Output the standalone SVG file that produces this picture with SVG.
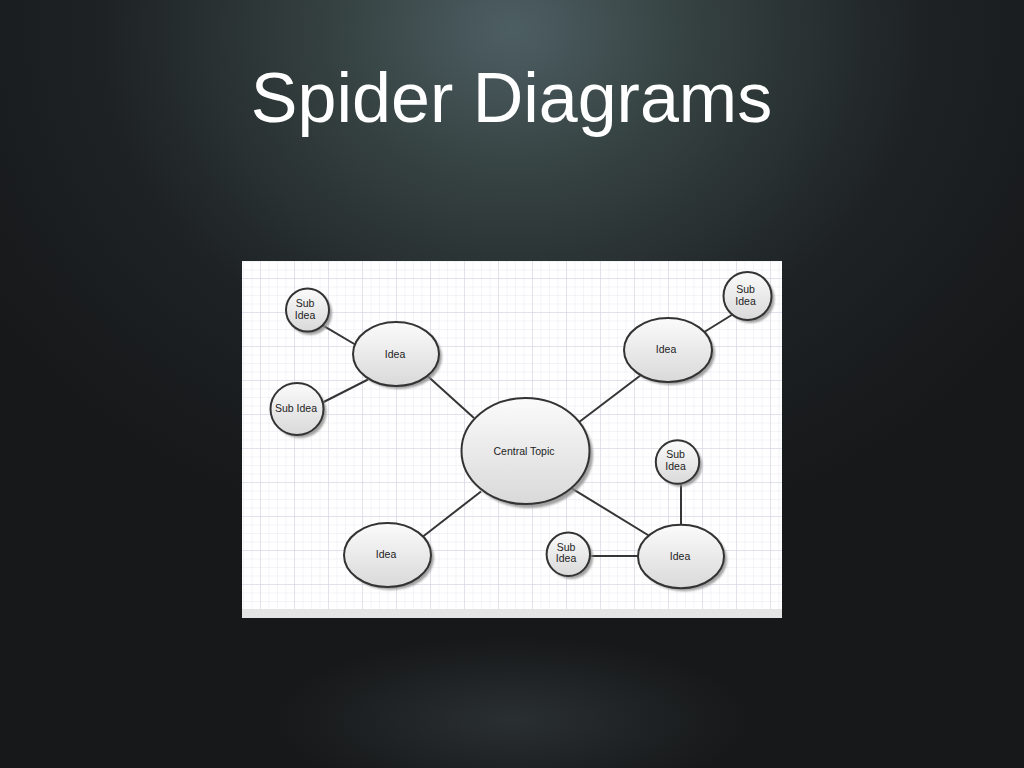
<svg xmlns="http://www.w3.org/2000/svg" width="1024" height="768" viewBox="0 0 1024 768">
<defs>
<radialGradient id="bg" cx="512" cy="30" r="700" gradientUnits="userSpaceOnUse" gradientTransform="translate(512 30) scale(0.9 0.75) translate(-512 -30)">
<stop offset="0" stop-color="#4d5e63"/>
<stop offset="0.3" stop-color="#34403f"/>
<stop offset="0.65" stop-color="#1e2224"/>
<stop offset="1" stop-color="#161819"/>
</radialGradient>
<radialGradient id="glow" cx="512" cy="720" r="240" gradientUnits="userSpaceOnUse" gradientTransform="translate(512 720) scale(1 0.35) translate(-512 -720)">
<stop offset="0" stop-color="#3a4244" stop-opacity="0.55"/>
<stop offset="1" stop-color="#3a4244" stop-opacity="0"/>
</radialGradient>
<linearGradient id="nodefill" x1="0" y1="0" x2="0" y2="1">
<stop offset="0" stop-color="#fbfbfb"/>
<stop offset="1" stop-color="#d9d9d9"/>
</linearGradient>
<pattern id="minor" x="260" y="278" width="8.5" height="8.5" patternUnits="userSpaceOnUse">
<path d="M0 0V8.5M0 0H8.5" fill="none" stroke="#e8e8f2" stroke-width="1"/>
</pattern>
<pattern id="major" x="260" y="278" width="34" height="34" patternUnits="userSpaceOnUse">
<path d="M0 0V34M0 0H34" fill="none" stroke="#d2d2e2" stroke-width="1"/>
</pattern>
<filter id="shadow" x="-20%" y="-20%" width="140%" height="140%">
<feGaussianBlur stdDeviation="1.2"/>
</filter>
<style>
.title{font-family:"Liberation Sans",Arial,sans-serif;font-size:70px;fill:#ffffff;text-anchor:middle}
.node{fill:url(#nodefill);stroke:#333333;stroke-width:2}
.sh{fill:#8a8a8a;opacity:0.8;filter:url(#shadow)}
.lbl{font-family:"Liberation Sans",Arial,sans-serif;font-size:10.5px;fill:#222222;text-anchor:middle}
.edge{stroke:#353535;stroke-width:2;fill:none}
</style>
</defs>
<rect width="1024" height="768" fill="url(#bg)"/>
<rect width="1024" height="768" fill="url(#glow)"/>
<text class="title" x="511.5" y="122">Spider Diagrams</text>

<g id="panel">
<rect x="242" y="261" width="540" height="357" fill="#ffffff"/>
<rect x="242" y="261" width="540" height="349" fill="url(#minor)"/>
<rect x="242" y="261" width="540" height="349" fill="url(#major)"/>
<rect x="242" y="609" width="540" height="9" fill="#e4e4e4"/>
</g>

<g id="connectors">
<line class="edge" x1="322.7" y1="325.3" x2="356" y2="345"/>
<line class="edge" x1="321.7" y1="403" x2="368" y2="379.5"/>
<line class="edge" x1="426.7" y1="375.3" x2="474" y2="418"/>
<line class="edge" x1="578.5" y1="422.5" x2="643" y2="373.5"/>
<line class="edge" x1="704.3" y1="332" x2="732.5" y2="314.5"/>
<line class="edge" x1="422.7" y1="536.7" x2="481" y2="491.5"/>
<line class="edge" x1="571.7" y1="488.3" x2="649.5" y2="536"/>
<line class="edge" x1="681" y1="484" x2="681" y2="525"/>
<line class="edge" x1="590" y1="556" x2="638" y2="556"/>
</g>

<g id="sub-tl">
<circle class="sh" cx="310" cy="313" r="22"/>
<circle class="node" cx="307.5" cy="310" r="21.5"/>
<text class="lbl" x="305" y="307">Sub</text>
<text class="lbl" x="305" y="319">Idea</text>
</g>
<g id="idea-tl">
<ellipse class="sh" cx="399" cy="357" rx="43" ry="32"/>
<ellipse class="node" cx="396" cy="354" rx="43" ry="32"/>
<text class="lbl" x="395" y="357.5">Idea</text>
</g>
<g id="sub-l">
<ellipse class="sh" cx="300" cy="412" rx="26.5" ry="26"/>
<ellipse class="node" cx="297" cy="409" rx="26.5" ry="26"/>
<text class="lbl" x="296" y="411.5">Sub Idea</text>
</g>
<g id="central">
<ellipse class="sh" cx="529" cy="455" rx="64" ry="53"/>
<ellipse class="node" cx="525.5" cy="451" rx="64" ry="53"/>
<text class="lbl" x="524" y="454.5">Central Topic</text>
</g>
<g id="idea-tr">
<ellipse class="sh" cx="671" cy="353" rx="44" ry="32"/>
<ellipse class="node" cx="668" cy="350" rx="44" ry="32"/>
<text class="lbl" x="666" y="352.5">Idea</text>
</g>
<g id="sub-tr">
<circle class="sh" cx="750.5" cy="299" r="24"/>
<circle class="node" cx="747.5" cy="296" r="24"/>
<text class="lbl" x="745.5" y="292.5">Sub</text>
<text class="lbl" x="745.5" y="304.5">Idea</text>
</g>
<g id="idea-bl">
<ellipse class="sh" cx="390.5" cy="558" rx="43.5" ry="32"/>
<ellipse class="node" cx="387.5" cy="555" rx="43.5" ry="32"/>
<text class="lbl" x="386" y="557.5">Idea</text>
</g>
<g id="sub-r">
<circle class="sh" cx="680.5" cy="465" r="21.7"/>
<circle class="node" cx="677.5" cy="462" r="21.7"/>
<text class="lbl" x="675.5" y="458">Sub</text>
<text class="lbl" x="675.5" y="469.5">Idea</text>
</g>
<g id="idea-br">
<ellipse class="sh" cx="684" cy="559.5" rx="43" ry="31.7"/>
<ellipse class="node" cx="681" cy="556.5" rx="43" ry="31.7"/>
<text class="lbl" x="680" y="559.5">Idea</text>
</g>
<g id="sub-b">
<circle class="sh" cx="571.3" cy="557.3" r="21.7"/>
<circle class="node" cx="568.3" cy="554.3" r="21.7"/>
<text class="lbl" x="566" y="551">Sub</text>
<text class="lbl" x="566" y="562">Idea</text>
</g>
</svg>
